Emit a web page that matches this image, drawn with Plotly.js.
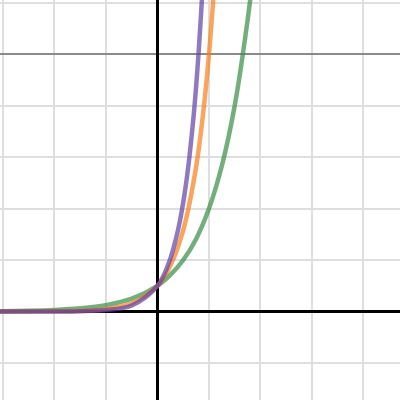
<!DOCTYPE html>
<html>
<head>
<meta charset="utf-8">
<script src="https://cdn.plot.ly/plotly-3.0.1.min.js"></script>
<style>
  html, body { margin: 0; padding: 0; background: #fff; }
  #plot-area { width: 400px; height: 400px; }
</style>
</head>
<body>
<div id="plot-area"></div>
<script>
// points, one list per curve
const greenX  = [-3.2, -2.5, -2, -1.5, -1, -0.5, 0, 0.25, 0.5, 0.75, 1, 1.25, 1.5, 1.75, 1.9]
const greenY  = [0.006, 0.016, 0.031, 0.063, 0.125, 0.25, 0.5, 0.71, 1.0, 1.41, 2.0, 2.83, 4.0, 5.66, 6.9]

const orangeX = [-3.2, -2.5, -2, -1.5, -1, -0.5, 0, 0.25, 0.5, 0.75, 0.9, 1, 1.1, 1.2]
const orangeY = [0.0003, 0.0016, 0.005, 0.016, 0.05, 0.158, 0.5, 0.89, 1.58, 2.81, 3.97, 5.0, 6.3, 7.9]

const purpleX = [-3.2, -2.5, -2, -1.5, -1, -0.5, 0, 0.2, 0.4, 0.55, 0.7, 0.8, 0.9, 0.95]
const purpleY = [0.0001, 0.0004, 0.0015, 0.0065, 0.028, 0.118, 0.5, 0.89, 1.59, 2.45, 3.78, 5.05, 6.74, 7.8]

showPlot()

function curve(x, y, color) {
  return {
    x: x,
    y: y,
    type: 'scatter',
    mode: 'lines',
    line: {color: color, width: 4.5, shape: 'spline', smoothing: 1},
    opacity: 0.7,
    hoverinfo: 'skip'
  }
}

function showPlot() {
  const grid = {
    tick0: 0,
    dtick: 5,
    showgrid: true,
    gridcolor: '#8a8a8a',
    gridwidth: 2,
    zeroline: true,
    zerolinecolor: '#000',
    zerolinewidth: 3,
    showticklabels: false,
    ticks: '',
    showline: false,
    fixedrange: true,
    minor: {tick0: 0, dtick: 1, showgrid: true, gridcolor: '#dedede', gridwidth: 2, ticks: ''}
  }

  const layout = {
    width: 400,
    height: 400,
    margin: {l: 0, r: 0, t: 0, b: 0},
    paper_bgcolor: '#fff',
    plot_bgcolor: '#fff',
    showlegend: false,
    xaxis: Object.assign({range: [-3.058, 4.709]}, grid),
    yaxis: Object.assign({range: [-1.718, 6.049]}, grid)
  }

  Plotly.newPlot('plot-area', [
    curve(greenX, greenY, '#388c46'),
    curve(orangeX, orangeY, '#fa7e19'),
    curve(purpleX, purpleY, '#6042a6')
  ], layout, {staticPlot: true})
}
</script>
</body>
</html>
